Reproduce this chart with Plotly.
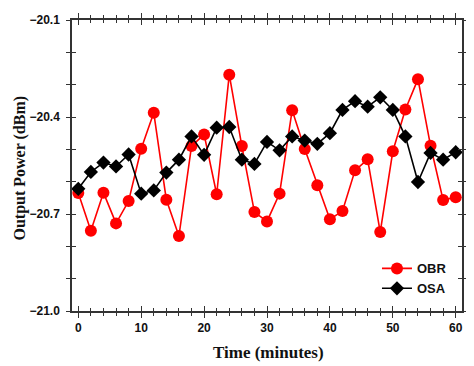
import plotly.graph_objects as go

time_min = list(range(0, 61, 2))
obr = [-20.635, -20.752, -20.634, -20.729, -20.660, -20.498, -20.387, -20.656, -20.768, -20.490,
       -20.454, -20.639, -20.269, -20.490, -20.694, -20.723, -20.637, -20.379, -20.499, -20.611,
       -20.716, -20.691, -20.565, -20.531, -20.756, -20.506, -20.377, -20.283, -20.489, -20.657, -20.648]
osa = [-20.622, -20.570, -20.541, -20.553, -20.516, -20.637, -20.627, -20.572, -20.532, -20.460,
       -20.517, -20.433, -20.431, -20.532, -20.545, -20.477, -20.503, -20.460, -20.473, -20.483,
       -20.450, -20.378, -20.351, -20.368, -20.339, -20.378, -20.460, -20.601, -20.511, -20.532, -20.509]

x_range = [-1, 61]
y_range = [-21.0, -20.1]
x_title = "Time (minutes)"
y_title = "Output Power (dBm)"

AX = "#333333"
tickfont = dict(family="Arial, Liberation Sans", size=12, color="#111111", weight="bold")
titlefont = dict(family="Liberation Serif, Times New Roman", color="#111111", weight="bold")

fig = go.Figure()
fig.add_trace(go.Scatter(x=time_min, y=obr, name="OBR", mode="lines+markers",
                         line=dict(color="#ff0000", width=1.6),
                         marker=dict(symbol="circle", size=12, color="#ff0000")))
fig.add_trace(go.Scatter(x=time_min, y=osa, name="OSA", mode="lines+markers",
                         line=dict(color="#000000", width=1.6),
                         marker=dict(symbol="diamond", size=11, color="#000000")))
fig.add_trace(go.Scatter(x=[time_min[0]], y=[osa[0]], xaxis="x2", yaxis="y2",
                         mode="markers", marker=dict(opacity=0), showlegend=False, hoverinfo="skip"))

common = dict(showline=True, linecolor=AX, linewidth=1.5, mirror="allticks", automargin=False,
              tickcolor=AX, tickwidth=1.3, showgrid=False, zeroline=False)
xminor = dict(dtick=2, tick0=0, ticklen=3, tickcolor=AX, tickwidth=1.2)
yminor = dict(dtick=0.1, tick0=-21.0, ticklen=4, tickcolor=AX, tickwidth=1.3)

fig.update_layout(
    template="simple_white",
    width=466, height=358,
    margin=dict(l=64, r=12, t=12, b=55),
    paper_bgcolor="white", plot_bgcolor="white",
    xaxis=dict(range=x_range, tick0=0, dtick=10, ticks="outside", ticklen=5,
               tickfont=tickfont, minor=dict(ticks="outside", **xminor), **common),
    yaxis=dict(range=y_range, tick0=-21.0, dtick=0.3, tickformat=".1f",
               ticks="outside", ticklen=4, tickfont=tickfont, ticklabelstandoff=4,
               minor=dict(ticks="outside", **yminor), **common),
    xaxis2=dict(range=x_range, overlaying="x", tick0=0, dtick=10, ticks="inside", ticklen=5,
                showticklabels=False, minor=dict(ticks="inside", **xminor), **common),
    yaxis2=dict(range=y_range, overlaying="y", tick0=-21.0, dtick=0.3, ticks="inside", ticklen=4,
                showticklabels=False, minor=dict(ticks="inside", **yminor), **common),
    legend=dict(x=0.782, y=0.026, xanchor="left", yanchor="bottom",
                bgcolor="rgba(0,0,0,0)", tracegroupgap=0,
                font=dict(family="Arial, Liberation Sans", size=13, color="#111111", weight="bold"),
                itemwidth=30),
    showlegend=True,
    annotations=[
        dict(text=x_title, xref="paper", yref="paper", x=0.503, y=0, xanchor="center",
             yanchor="middle", yshift=-41, showarrow=False, font=dict(size=17, **titlefont)),
        dict(text=y_title, xref="paper", yref="paper", x=0, y=0.5, xanchor="center",
             yanchor="middle", xshift=-53, yshift=-3, textangle=-90, showarrow=False,
             font=dict(size=16, **titlefont)),
    ],
)

fig.write_html("out.html")
